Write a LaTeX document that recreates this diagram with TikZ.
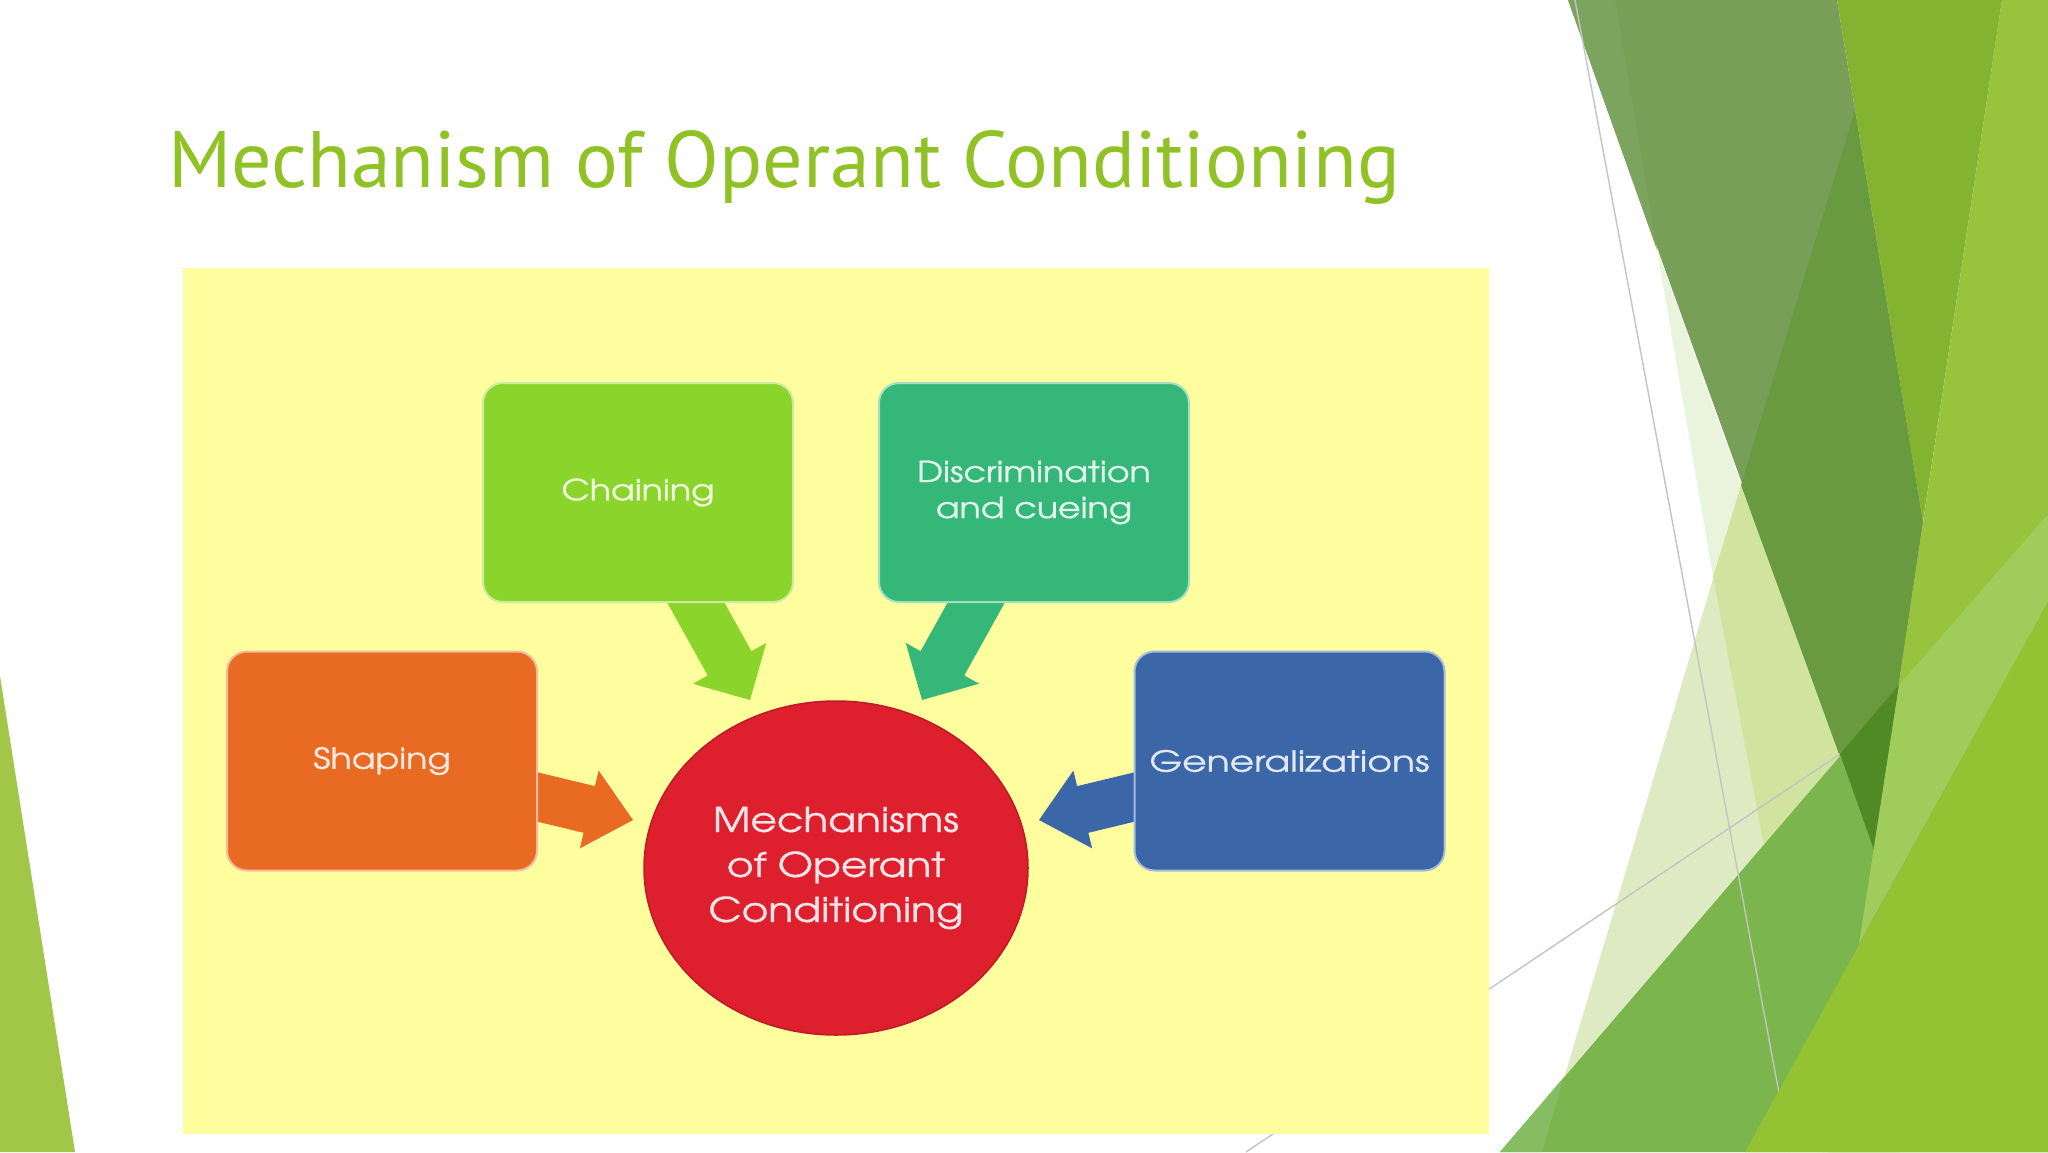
\documentclass[tikz,border=0pt]{standalone}
\usepackage{fontspec}
\setmainfont{PT Sans}
\newfontfamily\titlefont{PT Sans}
\newfontfamily\boxfont[FakeStretch=1.2,FakeBold=0.8]{TeX Gyre Adventor}
\newfontfamily\genfont[FakeStretch=1.3,FakeBold=0.8]{TeX Gyre Adventor}
\usetikzlibrary{calc,shapes.geometric}
\definecolor{titlegreen}{HTML}{90C226}
\definecolor{leftgreen}{HTML}{A2C648}
\definecolor{rlight}{HTML}{97C43C}
\definecolor{rbright}{HTML}{84B332}
\definecolor{muted}{HTML}{779F57}
\definecolor{mutedlt}{HTML}{7CA45F}
\definecolor{darkg}{HTML}{6A9A40}
\definecolor{paletwo}{HTML}{DEEAC2}
\definecolor{paleboth}{HTML}{D0E4A0}
\definecolor{paleone}{HTML}{EAF3DC}
\definecolor{bandg}{HTML}{7AB54E}
\definecolor{bandlt}{HTML}{86BC62}
\definecolor{darkerg}{HTML}{4F8A24}
\definecolor{rightband}{HTML}{A0CC5C}
\definecolor{brightg}{HTML}{93C232}
\definecolor{linegray}{HTML}{C4C4C4}
\definecolor{panelyellow}{HTML}{FFFE9E}
\definecolor{chaincol}{HTML}{8BD42B}
\definecolor{discol}{HTML}{35B77A}
\definecolor{shapecol}{HTML}{E96A23}
\definecolor{gencol}{HTML}{3B66A7}
\definecolor{circred}{HTML}{DE1F2E}
\newcommand\blockarrow[6]{%
  \coordinate (ba-hb) at ($(#2)!#6!(#1)$);
  \fill[#3] ($(#1)!#4!90:(#2)$) -- ($(ba-hb)!#4!90:(#2)$) -- ($(ba-hb)!#5!90:(#2)$) -- (#2)
    -- ($(ba-hb)!#5!-90:(#2)$) -- ($(ba-hb)!#4!-90:(#2)$) -- ($(#1)!#4!-90:(#2)$) -- cycle;}
\tikzset{
  mbox/.style={rounded corners=20pt, minimum width=310pt, minimum height=219pt, fill=#1,
    draw=white!55!#1, line width=2pt, text=white!85!#1, align=center, inner sep=0pt,
    font=\boxfont\fontsize{29}{36}\selectfont},
  bgline/.style={draw=linegray, line width=1.4pt}
}
\begin{document}
\begin{tikzpicture}[x=1pt,y=-1pt]
\useasboundingbox (0,0) rectangle (2048,1152);
\fill[white] (0,0) rectangle (2048,1152);
% right decoration
\fill[paletwo] (1853,110) -- (1542,1152) -- (1900,1152) -- (1923,522) -- cycle;
\fill[paleboth] (1741,485) -- (1713,576) -- (1822,1152) -- (1900,1152) -- (1923,522) -- cycle;
\fill[paleone] (1657,250) -- (1713,576) -- (1741,485) -- cycle;
\fill[muted] (1568,0) -- (1837,0) -- (1923,522) -- (1874,850) -- cycle;
\fill[mutedlt] (1568,0) -- (1615,0) -- (1657,250) -- cycle;
\fill[darkg] (1855,110) -- (1923,522) -- (1874,850) -- (1741,485) -- cycle;
\fill[rlight] (2002,0) -- (2048,0) -- (2048,1152) -- (1828,1152) -- cycle;
\fill[rbright] (1837,0) -- (2002,0) -- (1923,522) -- cycle;
\coordinate (l2a) at (1246,1152);
\coordinate (l2b) at (1840,754);
\draw[bgline] (l2a) -- (l2b);
\fill[bandg] (1500,1152) -- (2048,514) -- (2048,1152) -- cycle;
\fill[bandlt] (1500,1152) -- (1542,1152) -- (1564,1077) -- cycle;
\fill[darkerg] (1840,754) -- (1899,685) -- (1874,850) -- cycle;
\fill[rightband] (1899,685) -- (2048,514) -- (2048,602) -- (1859,944) -- cycle;
\coordinate (l1a) at (1575,0);
\coordinate (l1b) at (1790,1152);
\draw[bgline] (l1a) -- (l1b);
\fill[brightg] (1745,1152) -- (2048,602) -- (2048,1152) -- cycle;
% left decoration
\fill[leftgreen] (0,676) -- (0,1152) -- (75,1152) -- cycle;
% title
\node[anchor=base west, inner sep=0pt, text=titlegreen,
  font=\titlefont\fontsize{80}{92}\selectfont] (title) at (168,187) {Mechanism of Operant Conditioning};
% panel
\node[fill=panelyellow, minimum width=1306pt, minimum height=866pt, inner sep=0pt] (panel) at (836,701) {};
% arrows
\coordinate (ca-s) at (686,585); \coordinate (ca-t) at (750,700);
\coordinate (da-s) at (986,585); \coordinate (da-t) at (922,700);
\coordinate (sa-s) at (521,793); \coordinate (sa-t) at (633,820);
\coordinate (ga-s) at (1151,793); \coordinate (ga-t) at (1039,820);
\blockarrow{ca-s}{ca-t}{chaincol}{25pt}{42pt}{42pt}
\blockarrow{da-s}{da-t}{discol}{25pt}{42pt}{42pt}
\blockarrow{sa-s}{sa-t}{shapecol}{24pt}{40pt}{45pt}
\blockarrow{ga-s}{ga-t}{gencol}{24pt}{40pt}{45pt}
% boxes
\node[mbox=chaincol] (chain) at (638,492.5) {Chaining};
\node[mbox=discol] (disc) at (1034,492.5) {Discrimination\\and cueing};
\node[mbox=shapecol] (shap) at (382,761) {Shaping};
\node[mbox=gencol, font=\genfont\fontsize{29}{36}\selectfont] (gen) at (1289.5,761) {Generalizations};
\node[ellipse, minimum width=384pt, minimum height=334pt, inner sep=0pt, fill=circred,
  draw=circred!85!black, line width=1.5pt, text=white!88!circred, align=center,
  font=\boxfont\fontsize{34}{45}\selectfont] (center) at (836,868) {Mechanisms\\of Operant\\Conditioning};
\end{tikzpicture}
\end{document}
